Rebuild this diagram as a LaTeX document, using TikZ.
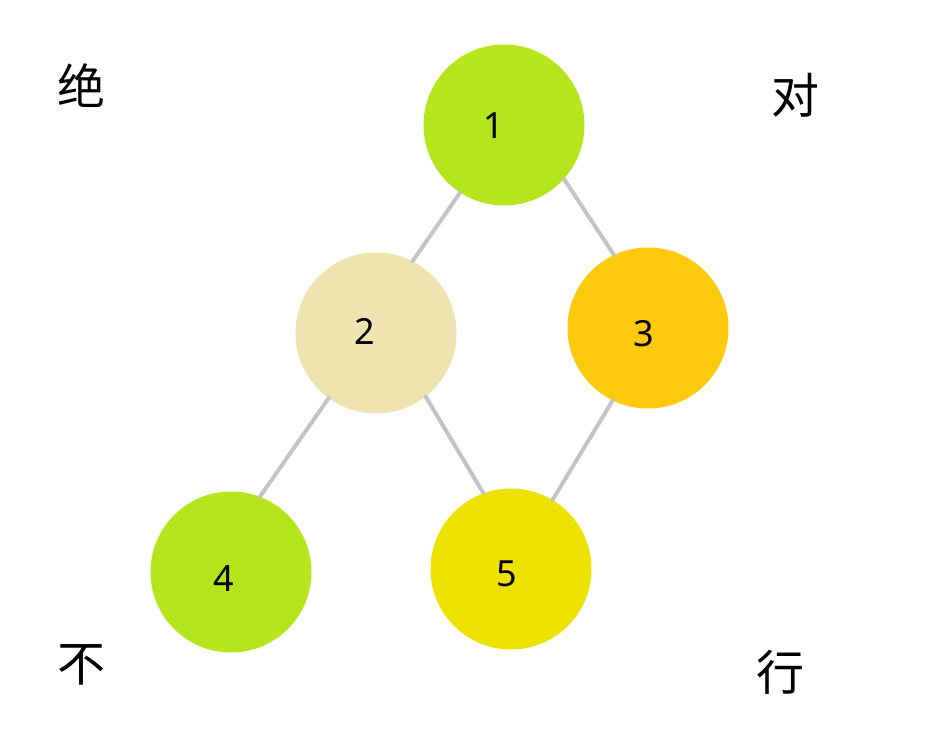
\documentclass[tikz,border=0pt]{standalone}
\usepackage{fontspec}
\setmainfont{Noto Sans}
\newfontfamily\cjk{Noto Sans CJK SC}
\usepackage{tikz}
\definecolor{limegreen}{HTML}{B5E61D}
\definecolor{paleyellow}{HTML}{EFE4B0}
\definecolor{goldyellow}{HTML}{FFC90E}
\definecolor{brightyellow}{HTML}{EDE100}
\definecolor{edgegray}{HTML}{C3C3C3}

\begin{document}
\begin{tikzpicture}[x=1pt,y=-1pt,
    vertex/.style={circle,inner sep=0pt,minimum size=161pt,fill=#1},
    num/.style={inner sep=0pt,font=\fontsize{36}{36}\selectfont},
    hanzi/.style={inner sep=0pt,font=\cjk\fontsize{48}{48}\selectfont},
    link/.style={draw=edgegray,line width=4pt,line cap=round}]
    \useasboundingbox (0,0) rectangle (929,753);
    \node[vertex=limegreen] (v1) at (504,125) {};
    \node[vertex=paleyellow] (v2) at (376,333) {};
    \node[vertex=goldyellow] (v3) at (648,328) {};
    \node[vertex=limegreen] (v4) at (231,572) {};
    \node[vertex=brightyellow] (v5) at (511,569) {};
    \node[num] (t1) at (494,126) {1};
    \node[num] (t2) at (365,331) {2};
    \node[num] (t3) at (644,334) {3};
    \node[num] (t4) at (224,579) {4};
    \node[num] (t5) at (507,574) {5};
    \draw[link] (v1.-123) -- (v2.63);
    \draw[link] (v1.-42) -- (v3.115);
    \draw[link] (v2.-126) -- (v4.69);
    \draw[link] (v2.-52) -- (v5.110);
    \draw[link] (v3.-116) -- (v5.59);
    \node[hanzi] (jue) at (81,86) {绝};
    \node[hanzi] (dui) at (795,95) {对};
    \node[hanzi] (bu) at (81,665) {不};
    \node[hanzi] (xing) at (780,672) {行};
\end{tikzpicture}
\end{document}
